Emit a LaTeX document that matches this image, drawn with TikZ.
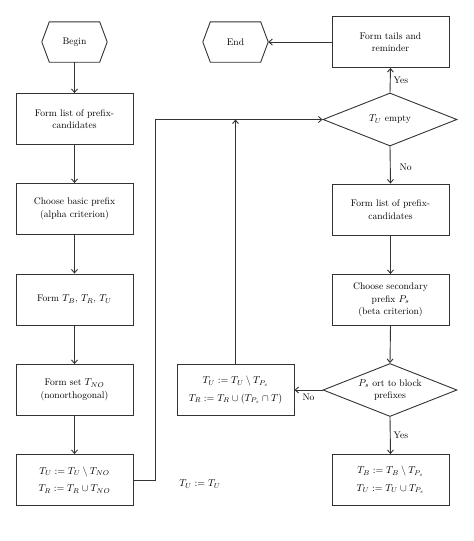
\documentclass[tikz,border=0pt]{standalone}
\usetikzlibrary{arrows.meta,shapes.geometric}
\begin{document}
\begin{tikzpicture}[x=1pt,y=-1pt, font=\fontsize{9.6}{12.5}\selectfont,
 line/.style={draw=black!80, line width=0.9pt},
 arr/.style={line, -{Straight Barb[length=3.5pt,width=6pt]}},
 box/.style={line, rectangle, minimum width=117pt, minimum height=51pt, align=center, inner sep=2pt},
 term/.style={minimum width=65pt, minimum height=40pt, inner sep=0pt},
 dec/.style={line, diamond, minimum width=134pt, minimum height=53pt, inner sep=0pt, aspect=2.5, align=center},
 lbl/.style={inner sep=3pt}]
\useasboundingbox (0,0) rectangle (474,541);
% left column
\node[term] (begin) at (74.5,42) {Begin};
\node[box] (L1) at (74.5,119) {Form list of prefix-\\candidates};
\node[box] (L2) at (74.5,209) {Choose basic prefix\\(alpha criterion)};
\node[box] (L3) at (74.5,299.5) {Form $T_B$, $T_R$, $T_U$};
\node[box] (L4) at (74.5,390) {Form set $T_{NO}$\\(nonorthogonal)};
\node[box] (L5) at (74.5,480) {$T_U := T_U \setminus T_{NO}$\\[5pt]$T_R := T_R \cup T_{NO}$};
% right column
\node[term] (end) at (235.5,42) {End};
\node[box] (tails) at (390.5,42) {Form tails and\\reminder};
\node[dec] (d1) at (390,119.5) {$T_U$ empty};
\node[box] (R1) at (390.5,209.5) {Form list of prefix-\\candidates};
\node[box] (R2) at (390.5,300) {Choose secondary\\prefix $P_s$\\(beta criterion)};
\node[dec] (d2) at (390,390) {$P_s$ ort to block\\prefixes};
\node[box] (M) at (235.5,390) {$T_U := T_U \setminus T_{P_s}$\\[5pt]$T_R := T_R \cup (T_{P_s} \cap T)$};
\node[box] (R3) at (390.5,480) {$T_B := T_B \setminus T_{P_s}$\\[5pt]$T_U := T_U \cup T_{P_s}$};
\node (free) at (200,484) {$T_U := T_U$};
% hexagons
\foreach \n in {begin,end}
  \draw[line] ([xshift=7.5pt]\n.north west) -- ([xshift=-7.5pt]\n.north east) -- (\n.east)
    -- ([xshift=-7.5pt]\n.south east) -- ([xshift=7.5pt]\n.south west) -- (\n.west) -- cycle;
% connectors
\draw[arr] (begin.south) -- (L1.north);
\draw[arr] (L1.south) -- (L2.north);
\draw[arr] (L2.south) -- (L3.north);
\draw[arr] (L3.south) -- (L4.north);
\draw[arr] (L4.south) -- (L5.north);
\coordinate (c1) at (155,119.5);
\draw[arr] (L5.east) -| (c1) -- (d1.west);
\draw[arr] (M.north) -- (M.north |- c1);
\draw[arr] (d1.north) -- (tails.south) node[midway,right,lbl] {Yes};
\draw[arr] (tails.west) -- (end.east);
\draw[arr] (d1.south) -- (R1.north) node[midway,right,lbl,xshift=6pt,yshift=-2pt] {No};
\draw[arr] (R1.south) -- (R2.north);
\draw[arr] (R2.south) -- (d2.north);
\draw[arr] (d2.south) -- (R3.north) node[midway,right,lbl] {Yes};
\draw[arr] (d2.west) -- (M.east) node[midway,below,lbl] {No};
\end{tikzpicture}
\end{document}
